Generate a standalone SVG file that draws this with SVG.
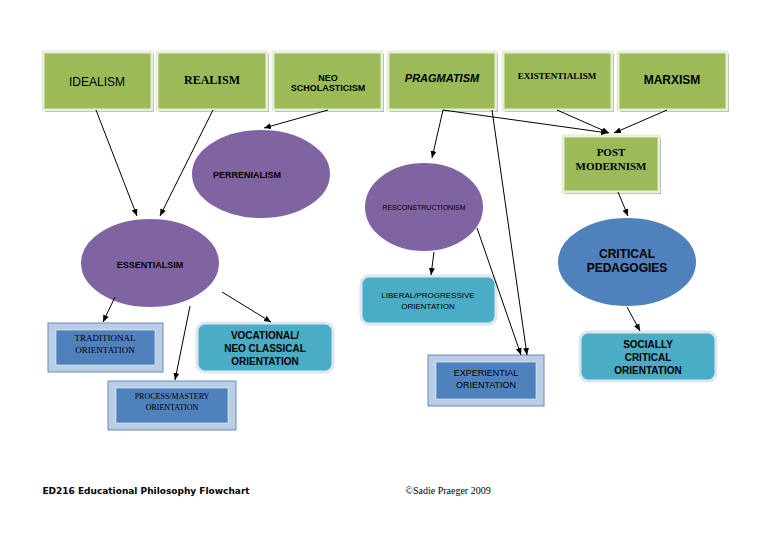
<svg xmlns="http://www.w3.org/2000/svg" width="768" height="543" viewBox="0 0 768 543">
<style>
.g{fill:#9bbb59;stroke:#e8eed8;stroke-width:3}
.sh{fill:#999}
.p{fill:#8064a2;stroke:#fff;stroke-width:2}
.b{fill:#4f81bd;stroke:#fff;stroke-width:2}
.t{fill:#4bacc6;stroke:#dbe8f0;stroke-width:3}
.bo{fill:#b9cde5;stroke:#6a8cb8;stroke-width:1}
.bi{fill:#4f81bd;stroke:#fff;stroke-width:0.5}
text{font-family:"Liberation Sans",Arial,sans-serif;fill:#000;text-anchor:middle}
.c line{stroke:#000;stroke-width:1;marker-end:url(#a)}
</style>
<defs><marker id="a" markerWidth="8" markerHeight="8" refX="7" refY="4" orient="auto" markerUnits="userSpaceOnUse"><path d="M0,1 L7,4 L0,7z" fill="#000"/></marker></defs>
<rect width="768" height="543" fill="#fff"/>
<g id="idealism"><rect class="sh" x="45" y="54" width="109" height="58"/><rect class="g" x="43" y="52" width="109" height="58"/><text x="97" y="86" font-size="12">IDEALISM</text></g>
<g id="realism"><rect class="sh" x="159" y="54" width="110" height="58"/><rect class="g" x="157" y="52" width="110" height="58"/><text x="212" y="84" font-size="12" font-weight="bold" style="font-family:'Liberation Serif',serif">REALISM</text></g>
<g id="neo"><rect class="sh" x="275" y="54" width="109" height="58"/><rect class="g" x="273" y="52" width="109" height="58"/><text x="328" y="81" font-size="9" font-weight="bold">NEO</text><text x="328" y="91" font-size="9" font-weight="bold">SCHOLASTICISM</text></g>
<g id="pragmatism"><rect class="sh" x="390" y="54" width="108" height="58"/><rect class="g" x="388" y="52" width="108" height="58"/><text x="442" y="82" font-size="11" font-weight="bold" font-style="italic">PRAGMATISM</text></g>
<g id="existentialism"><rect class="sh" x="505" y="54" width="109" height="58"/><rect class="g" x="503" y="52" width="109" height="58"/><text x="557" y="79" font-size="9" font-weight="bold" style="font-family:'Liberation Serif',serif">EXISTENTIALISM</text></g>
<g id="marxism"><rect class="sh" x="620" y="54" width="109" height="58"/><rect class="g" x="618" y="52" width="109" height="58"/><text x="672" y="84" font-size="12" font-weight="bold">MARXISM</text></g>
<g id="postmodernism"><rect class="sh" x="565" y="138" width="96" height="56"/><rect class="g" x="563" y="136" width="96" height="56"/><text x="611" y="156" font-size="11" font-weight="bold" style="font-family:'Liberation Serif',serif">POST</text><text x="611" y="170" font-size="11" font-weight="bold" style="font-family:'Liberation Serif',serif">MODERNISM</text></g>
<g id="perrenialism"><ellipse class="p" cx="261" cy="174" rx="70" ry="45"/><text x="247" y="178" font-size="9" font-weight="bold">PERRENIALISM</text></g>
<g id="essentialsim"><ellipse class="p" cx="150" cy="263" rx="70" ry="45"/><text x="150" y="268" font-size="9" font-weight="bold">ESSENTIALSIM</text></g>
<g id="reconstructionism"><ellipse class="p" cx="424" cy="207" rx="60" ry="45"/><text x="424" y="210" font-size="7">RESCONSTRUCTIONISM</text></g>
<g id="critical"><ellipse class="b" cx="627" cy="262" rx="70" ry="45"/><text x="627" y="258" font-size="12" font-weight="bold">CRITICAL</text><text x="627" y="272" font-size="12" font-weight="bold">PEDAGOGIES</text></g>
<g id="traditional"><rect class="bo" x="48" y="323" width="115" height="49"/><rect class="bi" x="56" y="330" width="99" height="35"/><text x="105" y="341" font-size="9" style="font-family:'Liberation Serif',serif">TRADITIONAL</text><text x="105" y="353" font-size="9" style="font-family:'Liberation Serif',serif">ORIENTATION</text></g>
<g id="process"><rect class="bo" x="108" y="381" width="128" height="49"/><rect class="bi" x="116" y="388" width="112" height="35"/><text x="172" y="399" font-size="8" style="font-family:'Liberation Serif',serif">PROCESS/MASTERY</text><text x="172" y="410" font-size="8" style="font-family:'Liberation Serif',serif">ORIENTATION</text></g>
<g id="vocational"><rect class="t" x="197" y="323" width="136" height="49" rx="8"/><text x="265" y="339" font-size="10" font-weight="bold">VOCATIONAL/</text><text x="265" y="352" font-size="10" font-weight="bold">NEO CLASSICAL</text><text x="265" y="365" font-size="10" font-weight="bold">ORIENTATION</text></g>
<g id="liberal"><rect class="t" x="361" y="276" width="135" height="48" rx="8"/><text x="428" y="298" font-size="8">LIBERAL/PROGRESSIVE</text><text x="428" y="309" font-size="8">ORIENTATION</text></g>
<g id="experiential"><rect class="bo" x="428" y="355" width="116" height="51"/><rect class="bi" x="436" y="362" width="100" height="37"/><text x="486" y="376" font-size="9">EXPERIENTIAL</text><text x="486" y="388" font-size="9">ORIENTATION</text></g>
<g id="socially"><rect class="t" x="580" y="332" width="136" height="49" rx="8"/><text x="648" y="348" font-size="10" font-weight="bold">SOCIALLY</text><text x="648" y="361" font-size="10" font-weight="bold">CRITICAL</text><text x="648" y="374" font-size="10" font-weight="bold">ORIENTATION</text></g>
<g class="c" id="connectors">
<line x1="96" y1="110" x2="137" y2="216"/>
<line x1="213" y1="110" x2="160" y2="216"/>
<line x1="328" y1="110" x2="264" y2="128"/>
<line x1="443" y1="110" x2="432" y2="158"/>
<line x1="443" y1="110" x2="608" y2="133"/>
<line x1="492" y1="110" x2="527" y2="355"/>
<line x1="477" y1="228" x2="521" y2="355"/>
<line x1="557" y1="110" x2="609" y2="133"/>
<line x1="667" y1="110" x2="614" y2="133"/>
<line x1="618" y1="192" x2="628" y2="216"/>
<line x1="434" y1="252" x2="431" y2="275"/>
<line x1="115" y1="297" x2="103" y2="322"/>
<line x1="190" y1="306" x2="175" y2="380"/>
<line x1="222" y1="292" x2="271" y2="322"/>
<line x1="627" y1="307" x2="640" y2="331"/>
</g>
<text x="146" y="494" font-size="9" font-weight="bold" style="font-family:'DejaVu Sans',sans-serif">ED216 Educational Philosophy Flowchart</text>
<text x="448" y="494" font-size="10" style="font-family:'Liberation Serif',serif">©Sadie Praeger 2009</text>
</svg>
